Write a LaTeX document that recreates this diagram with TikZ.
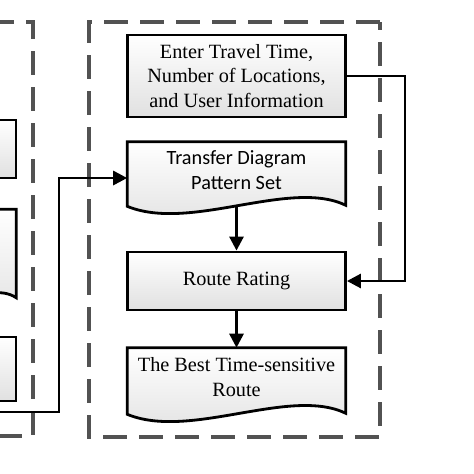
\documentclass[tikz,border=0pt]{standalone}
\usepackage{fontspec}
\setmainfont{Liberation Serif}
\newfontfamily\calibrifont{Carlito}
\usetikzlibrary{arrows.meta,backgrounds}

\begin{document}
\begin{tikzpicture}[x=0.025cm, y=-0.025cm,
  procnode/.style={draw=black, line width=2pt, top color=white, bottom color=black!12, minimum width=5.45cm, align=center, font=\fontsize{14.4}{17.6}\selectfont},
  docnode/.style={minimum width=5.45cm, align=center, inner sep=0pt, font=\fontsize{14.4}{17.6}\selectfont},
  docshape/.style={draw=black, line width=2pt, top color=white, bottom color=black!12},
  flow/.style={line width=2pt, -{Triangle[length=10pt,width=10pt]}},
  frame/.style={draw=black!68, line width=2.2pt, dash pattern=on 0.6cm off 0.3cm}]
\useasboundingbox (0,0) rectangle (474,474);
% Nodes
\node[procnode, minimum width=2.9cm, minimum height=1.45cm] (left1) at (-42,149) {};
\node[docnode, minimum width=2.9cm, minimum height=2.025cm] (left2) at (-42,250) {};
\node[procnode, minimum width=2.9cm, minimum height=1.6cm] (left3) at (-42,369) {};
\node[procnode, minimum height=2.05cm] (enter) at (236.5,76) {Enter Travel Time,\\Number of Locations,\\and User Information};
\node[docnode, minimum height=1.4cm, font=\calibrifont\fontsize{14.4}{17.6}\selectfont] (transfer) at (236.5,170) {Transfer Diagram\\Pattern Set};
\node[procnode, minimum height=1.45cm] (route) at (236.5,281) {Route Rating};
\node[docnode, minimum height=1.45cm] (best) at (236.5,377) {The Best Time-sensitive\\Route};
\coordinate (src) at (-20,412);
\coordinate (bend) at (59,412);
% Document shapes
\begin{scope}[on background layer]
\draw[docshape] (left2.north west) -- (left2.north east) -- ([yshift=-0.175cm]left2.south east) .. controls +(-30,-20) and +(40,26) .. ([yshift=-0.2cm]left2.south west) -- cycle;
\draw[docshape] (transfer.north west) -- (transfer.north east) -- ([yshift=-0.175cm]transfer.south east) .. controls +(-56,-27) and +(63,26) .. ([yshift=-0.2cm]transfer.south west) -- cycle;
\draw[docshape] (best.north west) -- (best.north east) -- ([yshift=-0.175cm]best.south east) .. controls +(-56,-27) and +(63,26) .. ([yshift=-0.2cm]best.south west) -- cycle;
\end{scope}
% Frames
\draw[frame] (-10,22) -- (33,22) -- (33,436) -- (-10,436);
\draw[frame] (380,22) -- (89,22) -- (89,437) -- (380,437) -- cycle;
% Connectors
\draw[flow] (src) -- (bend) |- ([yshift=-0.2cm]transfer.west);
\draw[flow] ([yshift=-0.175cm]transfer.south) -- (route.north);
\draw[flow] (route.south) -- (best.north);
\draw[flow] (enter.east) -- ++(58,0) |- (route.east);
\end{tikzpicture}
\end{document}
